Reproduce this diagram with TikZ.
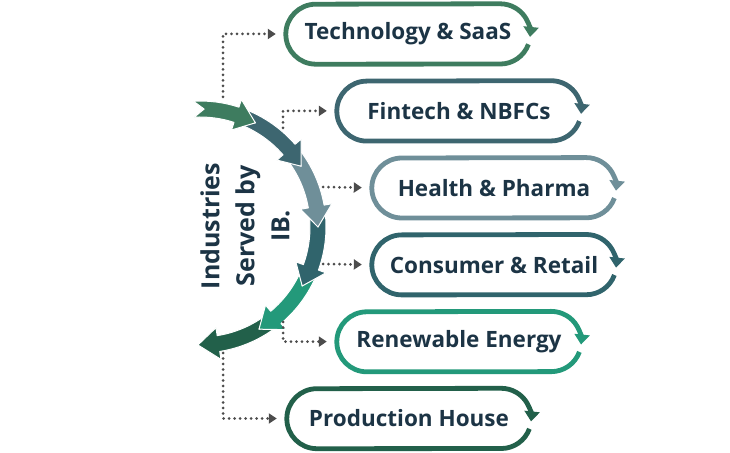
\documentclass[tikz,border=0pt]{standalone}
\usepackage{fontspec}
\setmainfont{Open Sans}
\usepackage{tikz}
\usetikzlibrary{arrows.meta,positioning}
\definecolor{indgreen}{HTML}{3E7C5F}
\definecolor{indpetrol}{HTML}{3D6670}
\definecolor{indslate}{HTML}{6F8F99}
\definecolor{indteal}{HTML}{30646C}
\definecolor{indjade}{HTML}{23997A}
\definecolor{indforest}{HTML}{22604A}
\definecolor{inktext}{HTML}{1C3445}
\definecolor{dotgray}{HTML}{4C4C4C}

\begin{document}
\begin{tikzpicture}[
x=1pt,y=1pt,
node distance=16.5pt,
box/.style={minimum width=244pt,minimum height=60pt,inner sep=0pt,text=inktext,font=\fontsize{22.5}{26}\selectfont\bfseries},
ring/.style={draw=#1,line width=4.8pt,-{Triangle[length=10pt,width=15pt]}},
dots/.style={draw=dotgray,line width=3pt,line cap=round,dash pattern=on 0pt off 5.5pt,-{Triangle[length=8pt,width=10pt]},shorten >=10pt}
]
\useasboundingbox (0,0) rectangle (730,452);
% the bent arrow made of six pieces
\begin{scope}[shift={(200,225)}]
\foreach \from/\nk/\to/\col in {-50/-60/-91/indforest,-20/-30/-60/indjade,10/0/-30/indteal,41/31/0/indslate,72/62/31/indpetrol,93/88/62/indgreen}
  \filldraw[fill=\col,draw=white,line width=1pt,line join=round]
    (\from:126pt) arc[start angle=\from,end angle=\to+10,radius=126pt]
    -- ({\to+10}:134pt) -- (\to:118pt) -- ({\to+10}:102pt) -- ({\to+10}:110pt)
    arc[start angle=\to+10,end angle=\from,radius=110pt] -- (\nk:118pt) -- cycle;
\end{scope}
\node[rotate=90,align=center,text=inktext,font=\fontsize{25}{35}\selectfont\bfseries] (title) at (245,226) {Industries\\Served by\\IB.};
% sectors
\node[box] (b1) at (408,418) {Technology \& SaaS};
\node[box,below=of b1,xshift=51pt] (b2) {Fintech \& NBFCs};
\node[box,below=of b2,xshift=35pt] (b3) {Health \& Pharma};
\node[box,below=of b3] (b4) {Consumer \& Retail};
\node[box,below=of b4,xshift=-35pt] (b5) {Renewable Energy};
\node[box,below=of b5,xshift=-50pt] (b6) {Production House};
\foreach \b/\c in {b1/indgreen,b2/indpetrol,b3/indslate,b4/indteal,b5/indjade,b6/indforest}
  \draw[ring=\c] ([shift={(-1.8,-10.3)}]\b.east) arc[start angle=-20,end angle=-90,radius=30pt]
    -- ([xshift=30pt]\b.south west) arc[start angle=270,end angle=90,radius=30pt]
    -- ([xshift=-30pt]\b.north east) arc[start angle=90,end angle=-6,radius=30pt];
% dotted links
\coordinate (s1) at (223,355);
\coordinate (s2) at (283,324);
\coordinate (s3) at (323,265);
\coordinate (s4) at (323,188);
\coordinate (s5) at (283,130);
\coordinate (s6) at (223,99);
\draw[dots] (s1) |- (b1.west);
\draw[dots] (s2) |- (b2.west);
\draw[dots] (s3) -- (b3.west);
\draw[dots] (s4) -- (b4.west);
\draw[dots] (s5) |- (b5.west);
\draw[dots] (s6) |- (b6.west);
\end{tikzpicture}
\end{document}
